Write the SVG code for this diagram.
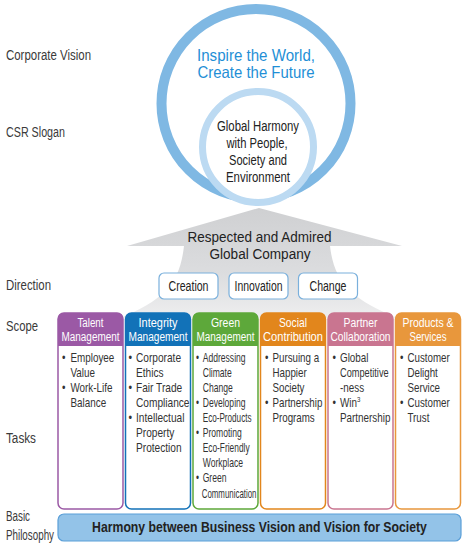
<svg xmlns="http://www.w3.org/2000/svg" width="472" height="547" viewBox="0 0 472 547">
<style>
text{font-family:"Liberation Sans",Arial,sans-serif;}
.lbl{font-size:14px;fill:#3a3a3a;}
.vis{font-size:16.5px;fill:#1f8fd6;text-anchor:middle;}
.csr{font-size:14px;fill:#222;text-anchor:middle;}
.co{font-size:15.5px;fill:#222;text-anchor:middle;}
.dir{font-size:14px;fill:#222;text-anchor:middle;}
.dbox{fill:#fff;stroke:#7ab0dc;stroke-width:1.2;}
.hd{font-size:12.5px;fill:#fff;text-anchor:middle;}
.tk{font-size:13px;fill:#333;}
.bar{font-size:14px;font-weight:bold;fill:#222;text-anchor:middle;}
</style>
<defs>
<linearGradient id="gr" x1="0" y1="0" x2="0" y2="1">
<stop offset="0" stop-color="#cfd0d2"/>
<stop offset="0.6" stop-color="#dcdddf"/>
<stop offset="1" stop-color="#eeeeef"/>
</linearGradient>
</defs>
<rect width="472" height="547" fill="#fff"/>
<g id="labels">
<text class="lbl" x="6" y="60" textLength="85" lengthAdjust="spacingAndGlyphs">Corporate Vision</text>
<text class="lbl" x="6" y="137" textLength="59" lengthAdjust="spacingAndGlyphs">CSR Slogan</text>
<text class="lbl" x="6" y="290" textLength="45" lengthAdjust="spacingAndGlyphs">Direction</text>
<text class="lbl" x="6" y="331" textLength="32" lengthAdjust="spacingAndGlyphs">Scope</text>
<text class="lbl" x="6" y="443" textLength="30" lengthAdjust="spacingAndGlyphs">Tasks</text>
<text class="lbl" x="6" y="521" textLength="24" lengthAdjust="spacingAndGlyphs">Basic</text>
<text class="lbl" x="6" y="540" textLength="48" lengthAdjust="spacingAndGlyphs">Philosophy</text>
</g>
<g id="vision">
<circle cx="256" cy="103.5" r="94.5" fill="none" stroke="#7fb8e3" stroke-width="10"/>
<text class="vis" x="256" y="61" textLength="118" lengthAdjust="spacingAndGlyphs">Inspire the World,</text>
<text class="vis" x="256" y="78" textLength="117" lengthAdjust="spacingAndGlyphs">Create the Future</text>
</g>
<g id="company">
<path d="M259,208 L402,246 L330,246 C334,282 352,300 398,318 L120,318 C165,300 180,282 184,246 L127,246 Z" fill="url(#gr)"/>
<text class="co" x="259.5" y="242" textLength="144" lengthAdjust="spacingAndGlyphs">Respected and Admired</text>
<text class="co" x="260" y="259" textLength="101" lengthAdjust="spacingAndGlyphs">Global Company</text>
</g>
<g id="slogan">
<circle cx="258" cy="147" r="55.5" fill="#fff" stroke="#bcdaf2" stroke-width="7"/>
<text class="csr" x="258" y="131" textLength="82" lengthAdjust="spacingAndGlyphs">Global Harmony</text>
<text class="csr" x="257" y="148" textLength="61" lengthAdjust="spacingAndGlyphs">with People,</text>
<text class="csr" x="258" y="165" textLength="58" lengthAdjust="spacingAndGlyphs">Society and</text>
<text class="csr" x="258" y="182" textLength="64" lengthAdjust="spacingAndGlyphs">Environment</text>
</g>
<g id="direction">
<g id="creation"><rect class="dbox" x="159" y="273" width="59" height="26" rx="5"/><text class="dir" x="188.5" y="291" textLength="40" lengthAdjust="spacingAndGlyphs">Creation</text></g>
<g id="innovation"><rect class="dbox" x="229" y="273" width="59" height="26" rx="5"/><text class="dir" x="258.5" y="291" textLength="48" lengthAdjust="spacingAndGlyphs">Innovation</text></g>
<g id="change"><rect class="dbox" x="298.5" y="273" width="59" height="26" rx="5"/><text class="dir" x="328" y="291" textLength="37" lengthAdjust="spacingAndGlyphs">Change</text></g>
</g>
<g id="talent">
<rect x="58" y="313" width="65" height="196" rx="6" fill="#fff" stroke="#9b59a5" stroke-width="1.5"/>
<path d="M58,346 V319 Q58,313 64,313 H117 Q123,313 123,319 V346 Z" fill="#9b59a5"/>
<text class="hd" x="90.5" y="327" textLength="26" lengthAdjust="spacingAndGlyphs">Talent</text>
<text class="hd" x="90.5" y="341" textLength="58" lengthAdjust="spacingAndGlyphs">Management</text>
<g transform="translate(58 0) scale(0.76 1)">
<text class="tk" x="5.3" y="362">•</text><text class="tk" x="16.4" y="362">Employee</text>
<text class="tk" x="16.4" y="377">Value</text>
<text class="tk" x="5.3" y="392">•</text><text class="tk" x="16.4" y="392">Work-Life</text>
<text class="tk" x="16.4" y="407">Balance</text>
</g>
</g>
<g id="integrity">
<rect x="125.5" y="313" width="65" height="196" rx="6" fill="#fff" stroke="#1272b8" stroke-width="1.5"/>
<path d="M125.5,346 V319 Q125.5,313 131.5,313 H184.5 Q190.5,313 190.5,319 V346 Z" fill="#1272b8"/>
<text class="hd" x="158" y="327" textLength="39" lengthAdjust="spacingAndGlyphs">Integrity</text>
<text class="hd" x="158" y="341" textLength="59" lengthAdjust="spacingAndGlyphs">Management</text>
<g transform="translate(125.5 0) scale(0.78 1)">
<text class="tk" x="3.8" y="362">•</text><text class="tk" x="13.5" y="362">Corporate</text>
<text class="tk" x="13.5" y="377">Ethics</text>
<text class="tk" x="3.8" y="392">•</text><text class="tk" x="13.5" y="392">Fair Trade</text>
<text class="tk" x="13.5" y="407">Compliance</text>
<text class="tk" x="3.8" y="422">•</text><text class="tk" x="13.5" y="422">Intellectual</text>
<text class="tk" x="13.5" y="437">Property</text>
<text class="tk" x="13.5" y="452">Protection</text>
</g>
</g>
<g id="green">
<rect x="193" y="313" width="65" height="196" rx="6" fill="#fff" stroke="#5da83a" stroke-width="1.5"/>
<path d="M193,346 V319 Q193,313 199,313 H252 Q258,313 258,319 V346 Z" fill="#5da83a"/>
<text class="hd" x="225.5" y="327" textLength="29" lengthAdjust="spacingAndGlyphs">Green</text>
<text class="hd" x="225.5" y="341" textLength="58" lengthAdjust="spacingAndGlyphs">Management</text>
<g transform="translate(193 0) scale(0.66 1)">
<text class="tk" x="4.5" y="362">•</text><text class="tk" x="14.7" y="362">Addressing</text>
<text class="tk" x="14.7" y="377">Climate</text>
<text class="tk" x="14.7" y="392">Change</text>
<text class="tk" x="4.5" y="407">•</text><text class="tk" x="14.7" y="407">Developing</text>
<text class="tk" x="14.7" y="422" textLength="74" lengthAdjust="spacingAndGlyphs">Eco-Products</text>
<text class="tk" x="4.5" y="437">•</text><text class="tk" x="14.7" y="437">Promoting</text>
<text class="tk" x="14.7" y="452" textLength="71" lengthAdjust="spacingAndGlyphs">Eco-Friendly</text>
<text class="tk" x="14.7" y="467">Workplace</text>
<text class="tk" x="4.5" y="482">•</text><text class="tk" x="14.7" y="482">Green</text>
<text class="tk" x="13.2" y="498" textLength="83" lengthAdjust="spacingAndGlyphs">Communication</text>
</g>
</g>
<g id="social">
<rect x="260.5" y="313" width="65" height="196" rx="6" fill="#fff" stroke="#e2861c" stroke-width="1.5"/>
<path d="M260.5,346 V319 Q260.5,313 266.5,313 H319.5 Q325.5,313 325.5,319 V346 Z" fill="#e2861c"/>
<text class="hd" x="293" y="327" textLength="28" lengthAdjust="spacingAndGlyphs">Social</text>
<text class="hd" x="293" y="341" textLength="60" lengthAdjust="spacingAndGlyphs">Contribution</text>
<g transform="translate(260.5 0) scale(0.75 1)">
<text class="tk" x="6" y="362">•</text><text class="tk" x="16" y="362">Pursuing a</text>
<text class="tk" x="16" y="377">Happier</text>
<text class="tk" x="16" y="392">Society</text>
<text class="tk" x="6" y="407">•</text><text class="tk" x="16" y="407">Partnership</text>
<text class="tk" x="16" y="422">Programs</text>
</g>
</g>
<g id="partner">
<rect x="328" y="313" width="65" height="196" rx="6" fill="#fff" stroke="#c97590" stroke-width="1.5"/>
<path d="M328,346 V319 Q328,313 334,313 H387 Q393,313 393,319 V346 Z" fill="#c97590"/>
<text class="hd" x="360.5" y="327" textLength="34" lengthAdjust="spacingAndGlyphs">Partner</text>
<text class="hd" x="360.5" y="341" textLength="60" lengthAdjust="spacingAndGlyphs">Collaboration</text>
<g transform="translate(328 0) scale(0.76 1)">
<text class="tk" x="5.9" y="362">•</text><text class="tk" x="15.8" y="362">Global</text>
<text class="tk" x="15.8" y="377" textLength="64" lengthAdjust="spacingAndGlyphs">Competitive</text>
<text class="tk" x="15.8" y="392">-ness</text>
<text class="tk" x="5.9" y="407">•</text><text class="tk" x="15.8" y="407">Win<tspan font-size="8" dy="-5">3</tspan></text>
<text class="tk" x="15.8" y="422">Partnership</text>
</g>
</g>
<g id="products">
<rect x="395.5" y="313" width="65" height="196" rx="6" fill="#fff" stroke="#e8973c" stroke-width="1.5"/>
<path d="M395.5,346 V319 Q395.5,313 401.5,313 H454.5 Q460.5,313 460.5,319 V346 Z" fill="#e8973c"/>
<text class="hd" x="428" y="327" textLength="51" lengthAdjust="spacingAndGlyphs">Products &amp;</text>
<text class="hd" x="428" y="341" textLength="37" lengthAdjust="spacingAndGlyphs">Services</text>
<g transform="translate(395.5 0) scale(0.75 1)">
<text class="tk" x="6" y="362">•</text><text class="tk" x="16" y="362">Customer</text>
<text class="tk" x="16" y="377">Delight</text>
<text class="tk" x="16" y="392">Service</text>
<text class="tk" x="6" y="407">•</text><text class="tk" x="16" y="407">Customer</text>
<text class="tk" x="16" y="422">Trust</text>
</g>
</g>
<g id="philosophy">
<rect x="58" y="514" width="403" height="27" rx="6" fill="#93c3e8" stroke="#5b9fd8" stroke-width="1.2"/>
<g transform="translate(259.5 0) scale(0.875 1)">
<text class="bar" x="0" y="532.5">Harmony between Business Vision and Vision for Society</text>
</g>
</g>
<g id="connectors"></g>
</svg>
